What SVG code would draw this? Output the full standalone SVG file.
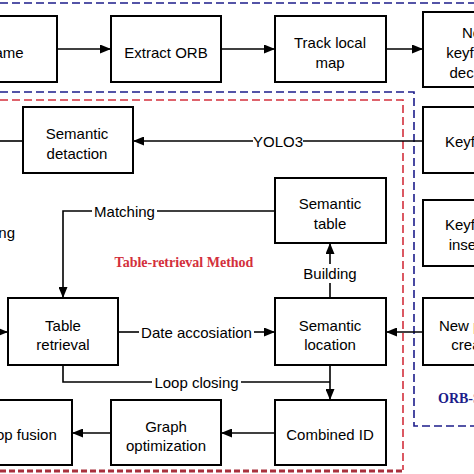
<svg xmlns="http://www.w3.org/2000/svg" width="474" height="474" viewBox="0 0 474 474">
<defs>
<marker id="ah" markerUnits="userSpaceOnUse" markerWidth="11" markerHeight="9" refX="11" refY="4.5" orient="auto">
<path d="M0,0 L11,4.5 L0,9 z" fill="#000"/>
</marker>
<style>
.box{fill:#fff;stroke:#000;stroke-width:2}
.t{font-family:"Liberation Sans",Arial,sans-serif;font-size:15px;fill:#000;text-anchor:middle;dominant-baseline:central}
.lbl{font-family:"Liberation Sans",Arial,sans-serif;font-size:15px;fill:#000;dominant-baseline:central}
.c{fill:none;stroke:#000;stroke-width:1.6}
.a{marker-end:url(#ah)}
.blue{fill:none;stroke:#1c1c8a;stroke-width:1.6;stroke-dasharray:8 4}
.red{fill:none;stroke:#d3303c;stroke-width:1.6;stroke-dasharray:8 4}
.title{font-family:"Liberation Serif","Times New Roman",serif;font-weight:bold;font-size:14px;dominant-baseline:central}
</style>
</defs>
<rect width="474" height="474" fill="#fff"/>
<g id="regions">
<path class="blue" d="M0 3 H474"/>
<path class="blue" d="M0 92 H414 V426 H474"/>
<path class="red" d="M0 100 H403 V470"/>
<path d="M0 471 H403" fill="none" stroke="#a8303c" stroke-width="3" stroke-dasharray="6 3"/>
<text class="title" x="184" y="262" text-anchor="middle" fill="#d3303c">Table-retrieval Method</text>
<text class="title" x="438" y="398" fill="#1c1c8a">ORB-SLAM2</text>
<text class="lbl" x="15" y="232" text-anchor="end">Mapping</text>
</g>
<g id="connectors">
<path class="c a" d="M57 49 H111"/>
<path class="c a" d="M221 49 H275"/>
<path class="c a" d="M386 49 H423"/>
<path class="c" d="M423 141 H303"/>
<path class="c a" d="M253 141 H133"/>
<text class="lbl" x="278" y="141" text-anchor="middle">YOLO3</text>
<path class="c" d="M23 141 H0"/>
<path class="c" d="M275 211 H157"/>
<path class="c a" d="M92 211 H63 V298"/>
<text class="lbl" x="124.5" y="211" text-anchor="middle">Matching</text>
<path class="c a" d="M0 332 H8"/>
<path class="c" d="M118 332 H139"/>
<path class="c a" d="M254 332 H275"/>
<text class="lbl" x="196.5" y="332" text-anchor="middle">Date accosiation</text>
<path class="c" d="M330 298 V283"/>
<path class="c a" d="M330 264 V243"/>
<text class="lbl" x="330" y="273" text-anchor="middle">Building</text>
<path class="c a" d="M423 332 H386"/>
<path class="c" d="M63 365 V382 H152"/>
<path class="c" d="M241 382 H330"/>
<text class="lbl" x="196.5" y="382" text-anchor="middle">Loop closing</text>
<path class="c a" d="M330 365 V400"/>
<path class="c a" d="M275 433 H221"/>
<path class="c a" d="M111 433 H72"/>
</g>
<g id="frame"><rect class="box" x="-53" y="16" width="110" height="66"/><text class="t" x="2" y="52">Frame</text></g>
<g id="extract-orb"><rect class="box" x="111" y="16" width="110" height="66"/><text class="t" x="166" y="52">Extract ORB</text></g>
<g id="track-local-map"><rect class="box" x="275" y="16" width="111" height="66"/><text class="t" x="330" y="42">Track local</text><text class="t" x="330" y="62">map</text></g>
<g id="new-keyframe-decision"><rect class="box" x="423" y="12" width="110" height="75"/><text class="t" x="477" y="32">New</text><text class="t" x="477" y="52">keyframe</text><text class="t" x="477" y="72">decision</text></g>
<g id="semantic-detaction"><rect class="box" x="23" y="107" width="110" height="66"/><text class="t" x="77" y="133">Semantic</text><text class="t" x="77" y="153">detaction</text></g>
<g id="keyframe"><rect class="box" x="423" y="107" width="110" height="66"/><text class="t" x="477" y="141">Keyframe</text></g>
<g id="semantic-table"><rect class="box" x="275" y="178" width="111" height="65"/><text class="t" x="330" y="203">Semantic</text><text class="t" x="330" y="223">table</text></g>
<g id="keyframe-insertion"><rect class="box" x="423" y="200" width="110" height="66"/><text class="t" x="477" y="224">Keyframe</text><text class="t" x="477" y="244">insertion</text></g>
<g id="table-retrieval"><rect class="box" x="8" y="298" width="110" height="67"/><text class="t" x="63" y="325">Table</text><text class="t" x="63" y="344">retrieval</text></g>
<g id="semantic-location"><rect class="box" x="275" y="298" width="111" height="67"/><text class="t" x="330" y="325">Semantic</text><text class="t" x="330" y="344">location</text></g>
<g id="new-points-creation"><rect class="box" x="423" y="298" width="110" height="67"/><text class="t" x="476" y="325">New points</text><text class="t" x="478" y="344">creation</text></g>
<g id="loop-fusion"><rect class="box" x="-38" y="400" width="110" height="65"/><text class="t" x="18" y="434">Loop fusion</text></g>
<g id="graph-optimization"><rect class="box" x="111" y="400" width="110" height="65"/><text class="t" x="166" y="426">Graph</text><text class="t" x="166" y="445">optimization</text></g>
<g id="combined-id"><rect class="box" x="275" y="400" width="111" height="65"/><text class="t" x="330" y="434">Combined ID</text></g>
</svg>
